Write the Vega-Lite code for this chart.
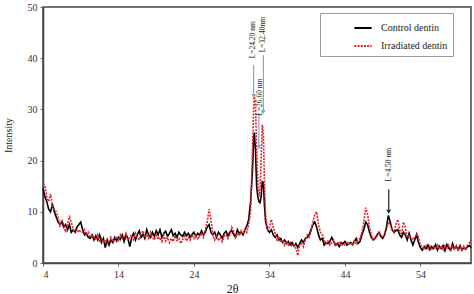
{
  "$schema": "https://vega.github.io/schema/vega-lite/v6.json",
  "autosize": {"type": "none"},
  "width": 428,
  "height": 256,
  "padding": {"left": 43, "top": 7, "right": 3, "bottom": 31},
  "background": "white",
  "config": {
    "font": "Liberation Serif",
    "view": {"stroke": "#444", "strokeWidth": 1.5},
    "legend": {"labelFont": "Liberation Serif", "titleFont": "Liberation Serif"},
    "axis": {"grid": false, "domainColor": "#444", "domainWidth": 1.5, "tickColor": "#666", "tickSize": 3, "labelFont": "Liberation Serif", "labelFontSize": 10, "labelColor": "#333", "titleFont": "Liberation Serif", "titleFontWeight": "normal", "titleColor": "#222"}
  },
  "datasets": {
    "xrd": [
      {"x":4.0,"Control dentin":14.5,"Irradiated dentin":15.5},
      {"x":4.25,"Control dentin":13,"Irradiated dentin":15},
      {"x":4.5,"Control dentin":12,"Irradiated dentin":13},
      {"x":4.75,"Control dentin":10.5,"Irradiated dentin":12},
      {"x":5.0,"Control dentin":10,"Irradiated dentin":13.5},
      {"x":5.25,"Control dentin":11.5,"Irradiated dentin":11},
      {"x":5.5,"Control dentin":10,"Irradiated dentin":10.5},
      {"x":5.75,"Control dentin":9,"Irradiated dentin":10},
      {"x":6.0,"Control dentin":8,"Irradiated dentin":9},
      {"x":6.25,"Control dentin":7.5,"Irradiated dentin":7},
      {"x":6.5,"Control dentin":8,"Irradiated dentin":8.5},
      {"x":6.75,"Control dentin":7,"Irradiated dentin":7.5},
      {"x":7.0,"Control dentin":7.5,"Irradiated dentin":6},
      {"x":7.25,"Control dentin":6.5,"Irradiated dentin":7.5},
      {"x":7.5,"Control dentin":7.5,"Irradiated dentin":9},
      {"x":7.75,"Control dentin":6,"Irradiated dentin":8},
      {"x":8.0,"Control dentin":6.5,"Irradiated dentin":6.5},
      {"x":8.25,"Control dentin":6,"Irradiated dentin":6},
      {"x":8.5,"Control dentin":7,"Irradiated dentin":6},
      {"x":8.75,"Control dentin":7.5,"Irradiated dentin":6.5},
      {"x":9.0,"Control dentin":8,"Irradiated dentin":6},
      {"x":9.25,"Control dentin":6.5,"Irradiated dentin":6},
      {"x":9.5,"Control dentin":5.5,"Irradiated dentin":6.5},
      {"x":9.75,"Control dentin":5.8,"Irradiated dentin":5.5},
      {"x":10.0,"Control dentin":5,"Irradiated dentin":6},
      {"x":10.25,"Control dentin":4.8,"Irradiated dentin":5},
      {"x":10.5,"Control dentin":5.5,"Irradiated dentin":5.5},
      {"x":10.75,"Control dentin":4.5,"Irradiated dentin":5},
      {"x":11.0,"Control dentin":5.3,"Irradiated dentin":4.5},
      {"x":11.25,"Control dentin":4.5,"Irradiated dentin":5.5},
      {"x":11.5,"Control dentin":5.5,"Irradiated dentin":4.3},
      {"x":11.75,"Control dentin":4,"Irradiated dentin":4.8},
      {"x":12.0,"Control dentin":4.8,"Irradiated dentin":4},
      {"x":12.25,"Control dentin":3,"Irradiated dentin":4.5},
      {"x":12.5,"Control dentin":4.5,"Irradiated dentin":3.8},
      {"x":12.75,"Control dentin":3.5,"Irradiated dentin":4},
      {"x":13.0,"Control dentin":4.5,"Irradiated dentin":5},
      {"x":13.25,"Control dentin":4,"Irradiated dentin":4.2},
      {"x":13.5,"Control dentin":5,"Irradiated dentin":4.5},
      {"x":13.75,"Control dentin":4.3,"Irradiated dentin":5.2},
      {"x":14.0,"Control dentin":5,"Irradiated dentin":4.4},
      {"x":14.25,"Control dentin":4.6,"Irradiated dentin":5.5},
      {"x":14.5,"Control dentin":5.5,"Irradiated dentin":4.8},
      {"x":14.75,"Control dentin":4.2,"Irradiated dentin":5},
      {"x":15.0,"Control dentin":5.5,"Irradiated dentin":5.8},
      {"x":15.25,"Control dentin":4.8,"Irradiated dentin":4.5},
      {"x":15.5,"Control dentin":3.2,"Irradiated dentin":5},
      {"x":15.75,"Control dentin":5,"Irradiated dentin":5.5},
      {"x":16.0,"Control dentin":5.8,"Irradiated dentin":4.6},
      {"x":16.25,"Control dentin":4.5,"Irradiated dentin":5.8},
      {"x":16.5,"Control dentin":5.5,"Irradiated dentin":5},
      {"x":16.75,"Control dentin":6.3,"Irradiated dentin":4.5},
      {"x":17.0,"Control dentin":5,"Irradiated dentin":5.6},
      {"x":17.25,"Control dentin":5.6,"Irradiated dentin":6.3},
      {"x":17.5,"Control dentin":4.8,"Irradiated dentin":5},
      {"x":17.75,"Control dentin":6.5,"Irradiated dentin":5.5},
      {"x":18.0,"Control dentin":5.5,"Irradiated dentin":4.8},
      {"x":18.25,"Control dentin":5,"Irradiated dentin":6},
      {"x":18.5,"Control dentin":6,"Irradiated dentin":5},
      {"x":18.75,"Control dentin":5.2,"Irradiated dentin":4.5},
      {"x":19.0,"Control dentin":6.3,"Irradiated dentin":5.4},
      {"x":19.25,"Control dentin":5.5,"Irradiated dentin":4.6},
      {"x":19.5,"Control dentin":6.5,"Irradiated dentin":5},
      {"x":19.75,"Control dentin":5,"Irradiated dentin":4.2},
      {"x":20.0,"Control dentin":5.8,"Irradiated dentin":5.5},
      {"x":20.25,"Control dentin":6.2,"Irradiated dentin":4.3},
      {"x":20.5,"Control dentin":5.2,"Irradiated dentin":5},
      {"x":20.75,"Control dentin":5.8,"Irradiated dentin":4},
      {"x":21.0,"Control dentin":6.5,"Irradiated dentin":4.8},
      {"x":21.25,"Control dentin":5.3,"Irradiated dentin":4.2},
      {"x":21.5,"Control dentin":5.8,"Irradiated dentin":5.3},
      {"x":21.75,"Control dentin":5,"Irradiated dentin":4.4},
      {"x":22.0,"Control dentin":6,"Irradiated dentin":4.8},
      {"x":22.25,"Control dentin":5.5,"Irradiated dentin":3.8},
      {"x":22.5,"Control dentin":5.2,"Irradiated dentin":4.6},
      {"x":22.75,"Control dentin":6,"Irradiated dentin":5.2},
      {"x":23.0,"Control dentin":5.3,"Irradiated dentin":4.3},
      {"x":23.25,"Control dentin":5.8,"Irradiated dentin":5},
      {"x":23.5,"Control dentin":5,"Irradiated dentin":4.5},
      {"x":23.75,"Control dentin":5.6,"Irradiated dentin":5.5},
      {"x":24.0,"Control dentin":6,"Irradiated dentin":4.8},
      {"x":24.25,"Control dentin":5.2,"Irradiated dentin":5.4},
      {"x":24.5,"Control dentin":5.8,"Irradiated dentin":4.6},
      {"x":24.75,"Control dentin":5.4,"Irradiated dentin":5.3},
      {"x":25.0,"Control dentin":6.3,"Irradiated dentin":5.8},
      {"x":25.25,"Control dentin":5.5,"Irradiated dentin":5},
      {"x":25.5,"Control dentin":6,"Irradiated dentin":6.5},
      {"x":25.75,"Control dentin":7,"Irradiated dentin":8},
      {"x":26.0,"Control dentin":7.5,"Irradiated dentin":10.5},
      {"x":26.25,"Control dentin":6,"Irradiated dentin":8.5},
      {"x":26.5,"Control dentin":5.5,"Irradiated dentin":5.5},
      {"x":26.75,"Control dentin":6,"Irradiated dentin":4.5},
      {"x":27.0,"Control dentin":5,"Irradiated dentin":5.5},
      {"x":27.25,"Control dentin":6,"Irradiated dentin":4.3},
      {"x":27.5,"Control dentin":5.5,"Irradiated dentin":5},
      {"x":27.75,"Control dentin":4.8,"Irradiated dentin":4.2},
      {"x":28.0,"Control dentin":5.8,"Irradiated dentin":5.3},
      {"x":28.25,"Control dentin":6.2,"Irradiated dentin":5.5},
      {"x":28.5,"Control dentin":5.3,"Irradiated dentin":4.8},
      {"x":28.75,"Control dentin":6,"Irradiated dentin":5.5},
      {"x":29.0,"Control dentin":6.3,"Irradiated dentin":7},
      {"x":29.25,"Control dentin":5.6,"Irradiated dentin":6.3},
      {"x":29.5,"Control dentin":5,"Irradiated dentin":5},
      {"x":29.75,"Control dentin":6.5,"Irradiated dentin":5.8},
      {"x":30.0,"Control dentin":5.8,"Irradiated dentin":5.3},
      {"x":30.25,"Control dentin":6,"Irradiated dentin":6.3},
      {"x":30.5,"Control dentin":5.5,"Irradiated dentin":5.6},
      {"x":30.75,"Control dentin":6.5,"Irradiated dentin":6.5},
      {"x":31.0,"Control dentin":7.2,"Irradiated dentin":6},
      {"x":31.25,"Control dentin":8.5,"Irradiated dentin":7.5},
      {"x":31.5,"Control dentin":12,"Irradiated dentin":10},
      {"x":31.75,"Control dentin":18,"Irradiated dentin":22},
      {"x":31.9,"Control dentin":24,"Irradiated dentin":30},
      {"x":32.0,"Control dentin":25.5,"Irradiated dentin":32.8},
      {"x":32.15,"Control dentin":22,"Irradiated dentin":31},
      {"x":32.3,"Control dentin":15,"Irradiated dentin":22},
      {"x":32.45,"Control dentin":13,"Irradiated dentin":16},
      {"x":32.6,"Control dentin":12,"Irradiated dentin":13},
      {"x":32.75,"Control dentin":11.8,"Irradiated dentin":14},
      {"x":32.9,"Control dentin":13,"Irradiated dentin":20},
      {"x":33.05,"Control dentin":16,"Irradiated dentin":27},
      {"x":33.2,"Control dentin":15.5,"Irradiated dentin":25},
      {"x":33.35,"Control dentin":11,"Irradiated dentin":15},
      {"x":33.5,"Control dentin":8,"Irradiated dentin":9},
      {"x":33.75,"Control dentin":6.5,"Irradiated dentin":6.5},
      {"x":34.0,"Control dentin":6,"Irradiated dentin":7},
      {"x":34.25,"Control dentin":6.5,"Irradiated dentin":8.5},
      {"x":34.5,"Control dentin":5.5,"Irradiated dentin":7},
      {"x":34.75,"Control dentin":5,"Irradiated dentin":5.8},
      {"x":35.0,"Control dentin":5.5,"Irradiated dentin":4.5},
      {"x":35.25,"Control dentin":4.5,"Irradiated dentin":5.2},
      {"x":35.5,"Control dentin":4.8,"Irradiated dentin":4},
      {"x":35.75,"Control dentin":4,"Irradiated dentin":4.5},
      {"x":36.0,"Control dentin":4.5,"Irradiated dentin":3.5},
      {"x":36.25,"Control dentin":3.8,"Irradiated dentin":4.3},
      {"x":36.5,"Control dentin":4.2,"Irradiated dentin":3.5},
      {"x":36.75,"Control dentin":3.5,"Irradiated dentin":4},
      {"x":37.0,"Control dentin":4,"Irradiated dentin":3.2},
      {"x":37.25,"Control dentin":3.3,"Irradiated dentin":3.8},
      {"x":37.5,"Control dentin":3.8,"Irradiated dentin":2.8},
      {"x":37.75,"Control dentin":3,"Irradiated dentin":1.5},
      {"x":38.0,"Control dentin":3.8,"Irradiated dentin":3.5},
      {"x":38.25,"Control dentin":4.5,"Irradiated dentin":4},
      {"x":38.5,"Control dentin":4,"Irradiated dentin":3.2},
      {"x":38.75,"Control dentin":4.8,"Irradiated dentin":4.5},
      {"x":39.0,"Control dentin":5,"Irradiated dentin":5.5},
      {"x":39.25,"Control dentin":5.5,"Irradiated dentin":5},
      {"x":39.5,"Control dentin":6.5,"Irradiated dentin":6},
      {"x":39.75,"Control dentin":7.5,"Irradiated dentin":8},
      {"x":40.0,"Control dentin":8,"Irradiated dentin":9.5},
      {"x":40.25,"Control dentin":7,"Irradiated dentin":10},
      {"x":40.5,"Control dentin":5.5,"Irradiated dentin":7.5},
      {"x":40.75,"Control dentin":4.5,"Irradiated dentin":6},
      {"x":41.0,"Control dentin":4.8,"Irradiated dentin":5.5},
      {"x":41.25,"Control dentin":3.5,"Irradiated dentin":4.5},
      {"x":41.5,"Control dentin":4,"Irradiated dentin":3.8},
      {"x":41.75,"Control dentin":3.8,"Irradiated dentin":4.3},
      {"x":42.0,"Control dentin":4.2,"Irradiated dentin":3.5},
      {"x":42.25,"Control dentin":5,"Irradiated dentin":4},
      {"x":42.5,"Control dentin":4.3,"Irradiated dentin":4.5},
      {"x":42.75,"Control dentin":3.5,"Irradiated dentin":3.2},
      {"x":43.0,"Control dentin":3.8,"Irradiated dentin":3.8},
      {"x":43.25,"Control dentin":3.2,"Irradiated dentin":4},
      {"x":43.5,"Control dentin":4,"Irradiated dentin":3.3},
      {"x":43.75,"Control dentin":3.8,"Irradiated dentin":3.8},
      {"x":44.0,"Control dentin":4.2,"Irradiated dentin":3.5},
      {"x":44.25,"Control dentin":3.5,"Irradiated dentin":4.2},
      {"x":44.5,"Control dentin":3.8,"Irradiated dentin":3.6},
      {"x":44.75,"Control dentin":4,"Irradiated dentin":4},
      {"x":45.0,"Control dentin":3.6,"Irradiated dentin":3.4},
      {"x":45.25,"Control dentin":4.2,"Irradiated dentin":4.3},
      {"x":45.5,"Control dentin":4.8,"Irradiated dentin":3.8},
      {"x":45.75,"Control dentin":3.8,"Irradiated dentin":4.5},
      {"x":46.0,"Control dentin":4.2,"Irradiated dentin":4.8},
      {"x":46.25,"Control dentin":5.5,"Irradiated dentin":6},
      {"x":46.5,"Control dentin":6.5,"Irradiated dentin":8},
      {"x":46.75,"Control dentin":8,"Irradiated dentin":10.8},
      {"x":47.0,"Control dentin":7.5,"Irradiated dentin":9.5},
      {"x":47.25,"Control dentin":6,"Irradiated dentin":7},
      {"x":47.5,"Control dentin":5,"Irradiated dentin":5.5},
      {"x":47.75,"Control dentin":4.5,"Irradiated dentin":4.5},
      {"x":48.0,"Control dentin":4.8,"Irradiated dentin":5},
      {"x":48.25,"Control dentin":5.5,"Irradiated dentin":5.2},
      {"x":48.5,"Control dentin":6,"Irradiated dentin":6},
      {"x":48.75,"Control dentin":5.2,"Irradiated dentin":5.5},
      {"x":49.0,"Control dentin":4.8,"Irradiated dentin":5},
      {"x":49.25,"Control dentin":5.5,"Irradiated dentin":5.5},
      {"x":49.5,"Control dentin":7,"Irradiated dentin":6.5},
      {"x":49.75,"Control dentin":9.3,"Irradiated dentin":8},
      {"x":50.0,"Control dentin":8,"Irradiated dentin":7.5},
      {"x":50.25,"Control dentin":6.5,"Irradiated dentin":6.5},
      {"x":50.5,"Control dentin":6,"Irradiated dentin":6},
      {"x":50.75,"Control dentin":6.3,"Irradiated dentin":7.5},
      {"x":51.0,"Control dentin":6.5,"Irradiated dentin":8.5},
      {"x":51.25,"Control dentin":5.5,"Irradiated dentin":6.5},
      {"x":51.5,"Control dentin":5,"Irradiated dentin":5.5},
      {"x":51.75,"Control dentin":6,"Irradiated dentin":8},
      {"x":52.0,"Control dentin":5.5,"Irradiated dentin":7},
      {"x":52.25,"Control dentin":4.5,"Irradiated dentin":5},
      {"x":52.5,"Control dentin":5.8,"Irradiated dentin":5.5},
      {"x":52.75,"Control dentin":4.5,"Irradiated dentin":5},
      {"x":53.0,"Control dentin":3.5,"Irradiated dentin":4.5},
      {"x":53.25,"Control dentin":4.5,"Irradiated dentin":5},
      {"x":53.5,"Control dentin":5.5,"Irradiated dentin":5.8},
      {"x":53.75,"Control dentin":4,"Irradiated dentin":5},
      {"x":54.0,"Control dentin":3,"Irradiated dentin":3.5},
      {"x":54.25,"Control dentin":2.5,"Irradiated dentin":3.2},
      {"x":54.5,"Control dentin":3.2,"Irradiated dentin":2.6},
      {"x":54.75,"Control dentin":2.8,"Irradiated dentin":3.4},
      {"x":55.0,"Control dentin":3.5,"Irradiated dentin":2.8},
      {"x":55.25,"Control dentin":2.6,"Irradiated dentin":3.3},
      {"x":55.5,"Control dentin":3.2,"Irradiated dentin":2.5},
      {"x":55.75,"Control dentin":2.8,"Irradiated dentin":3.2},
      {"x":56.0,"Control dentin":3.6,"Irradiated dentin":2.8},
      {"x":56.25,"Control dentin":2.5,"Irradiated dentin":3.5},
      {"x":56.5,"Control dentin":3.3,"Irradiated dentin":2.7},
      {"x":56.75,"Control dentin":2.8,"Irradiated dentin":3.3},
      {"x":57.0,"Control dentin":3.4,"Irradiated dentin":2.6},
      {"x":57.25,"Control dentin":2.4,"Irradiated dentin":3.4},
      {"x":57.5,"Control dentin":3.6,"Irradiated dentin":2.9},
      {"x":57.75,"Control dentin":2.9,"Irradiated dentin":3.5},
      {"x":58.0,"Control dentin":2.5,"Irradiated dentin":2.5},
      {"x":58.25,"Control dentin":3.8,"Irradiated dentin":3.2},
      {"x":58.5,"Control dentin":2.8,"Irradiated dentin":2.6},
      {"x":58.75,"Control dentin":3.2,"Irradiated dentin":3.4},
      {"x":59.0,"Control dentin":2.6,"Irradiated dentin":2.4},
      {"x":59.25,"Control dentin":3.4,"Irradiated dentin":3.1},
      {"x":59.5,"Control dentin":2.5,"Irradiated dentin":2.5},
      {"x":59.75,"Control dentin":3,"Irradiated dentin":3.3},
      {"x":60.0,"Control dentin":2.7,"Irradiated dentin":2.6},
      {"x":60.25,"Control dentin":3.2,"Irradiated dentin":3.5},
      {"x":60.5,"Control dentin":3.4,"Irradiated dentin":4},
      {"x":60.7,"Control dentin":3,"Irradiated dentin":4.5}
    ],
    "arrows": [
      {"x": 31.9, "y": 38.7, "y2": 32.6, "c": "#7fa6cc"},
      {"x": 33.2, "y": 40.6, "y2": 29.5, "c": "#7fa6cc"},
      {"x": 32.6, "y": 29.3, "y2": 22.6, "c": "#7fa6cc"},
      {"x": 49.8, "y": 14.4, "y2": 10.0, "c": "#222222"}
    ],
    "labels": [
      {"x": 31.8, "y": 43.6, "t": "L=24.20 nm"},
      {"x": 33.2, "y": 44.6, "t": "L=32.40nm"},
      {"x": 32.7, "y": 32.4, "t": "L=26.60 nm"},
      {"x": 49.8, "y": 19.2, "t": "L=4.50 nm"}
    ]
  },
  "layer": [
    {
      "data": {"name": "xrd"},
      "transform": [{"fold": ["Control dentin", "Irradiated dentin"], "as": ["series", "intensity"]}],
      "mark": {"type": "line", "strokeWidth": 1.6, "interpolate": "linear"},
      "encoding": {
        "x": {"field": "x", "type": "quantitative", "scale": {"domain": [4, 60.7], "nice": false, "zero": false},
          "axis": {"values": [4, 14, 24, 34, 44, 54], "title": "2θ", "titleFontSize": 12, "titleX": 189, "titleY": 20, "titleAlign": "center", "titleBaseline": "top", "labelPadding": 3}},
        "y": {"field": "intensity", "type": "quantitative", "scale": {"domain": [0, 50], "nice": false},
          "axis": {"values": [0, 5, 10, 15, 20, 25, 30, 35, 40, 45, 50], "title": "Intensity", "titleFontSize": 10, "titlePadding": 14, "labelPadding": 3}},
        "color": {"field": "series", "type": "nominal",
          "scale": {"domain": ["Control dentin", "Irradiated dentin"], "range": ["#000000", "#e3202c"]},
          "legend": {"title": null, "orient": "none", "legendX": 277, "legendY": 6, "strokeColor": "#999", "fillColor": "white", "padding": 5, "symbolOffset": 28, "rowPadding": 3, "labelFontSize": 10, "labelFont": "Liberation Serif", "labelColor": "#222", "symbolType": "stroke", "symbolSize": 300, "symbolStrokeWidth": 2, "labelOffset": 8}},
        "strokeDash": {"field": "series", "type": "nominal",
          "scale": {"domain": ["Control dentin", "Irradiated dentin"], "range": [[1, 0], [2, 1.2]]},
          "legend": null},
        "order": {"field": "x", "type": "quantitative"}
      }
    },
    {
      "data": {"name": "arrows"},
      "mark": {"type": "rule", "strokeWidth": 1.2},
      "encoding": {
        "x": {"field": "x", "type": "quantitative"},
        "y": {"field": "y", "type": "quantitative"},
        "y2": {"field": "y2"},
        "color": {"field": "c", "type": "nominal", "scale": null}
      }
    },
    {
      "data": {"name": "arrows"},
      "mark": {"type": "point", "shape": "triangle-down", "filled": true, "size": 22, "opacity": 1},
      "encoding": {
        "x": {"field": "x", "type": "quantitative"},
        "y": {"field": "y2", "type": "quantitative"},
        "color": {"field": "c", "type": "nominal", "scale": null}
      }
    },
    {
      "data": {"name": "labels"},
      "mark": {"type": "text", "angle": 270, "align": "center", "baseline": "middle", "font": "Liberation Serif", "fontSize": 7.5, "color": "#222"},
      "encoding": {
        "x": {"field": "x", "type": "quantitative"},
        "y": {"field": "y", "type": "quantitative"},
        "text": {"field": "t"}
      }
    }
  ]
}
